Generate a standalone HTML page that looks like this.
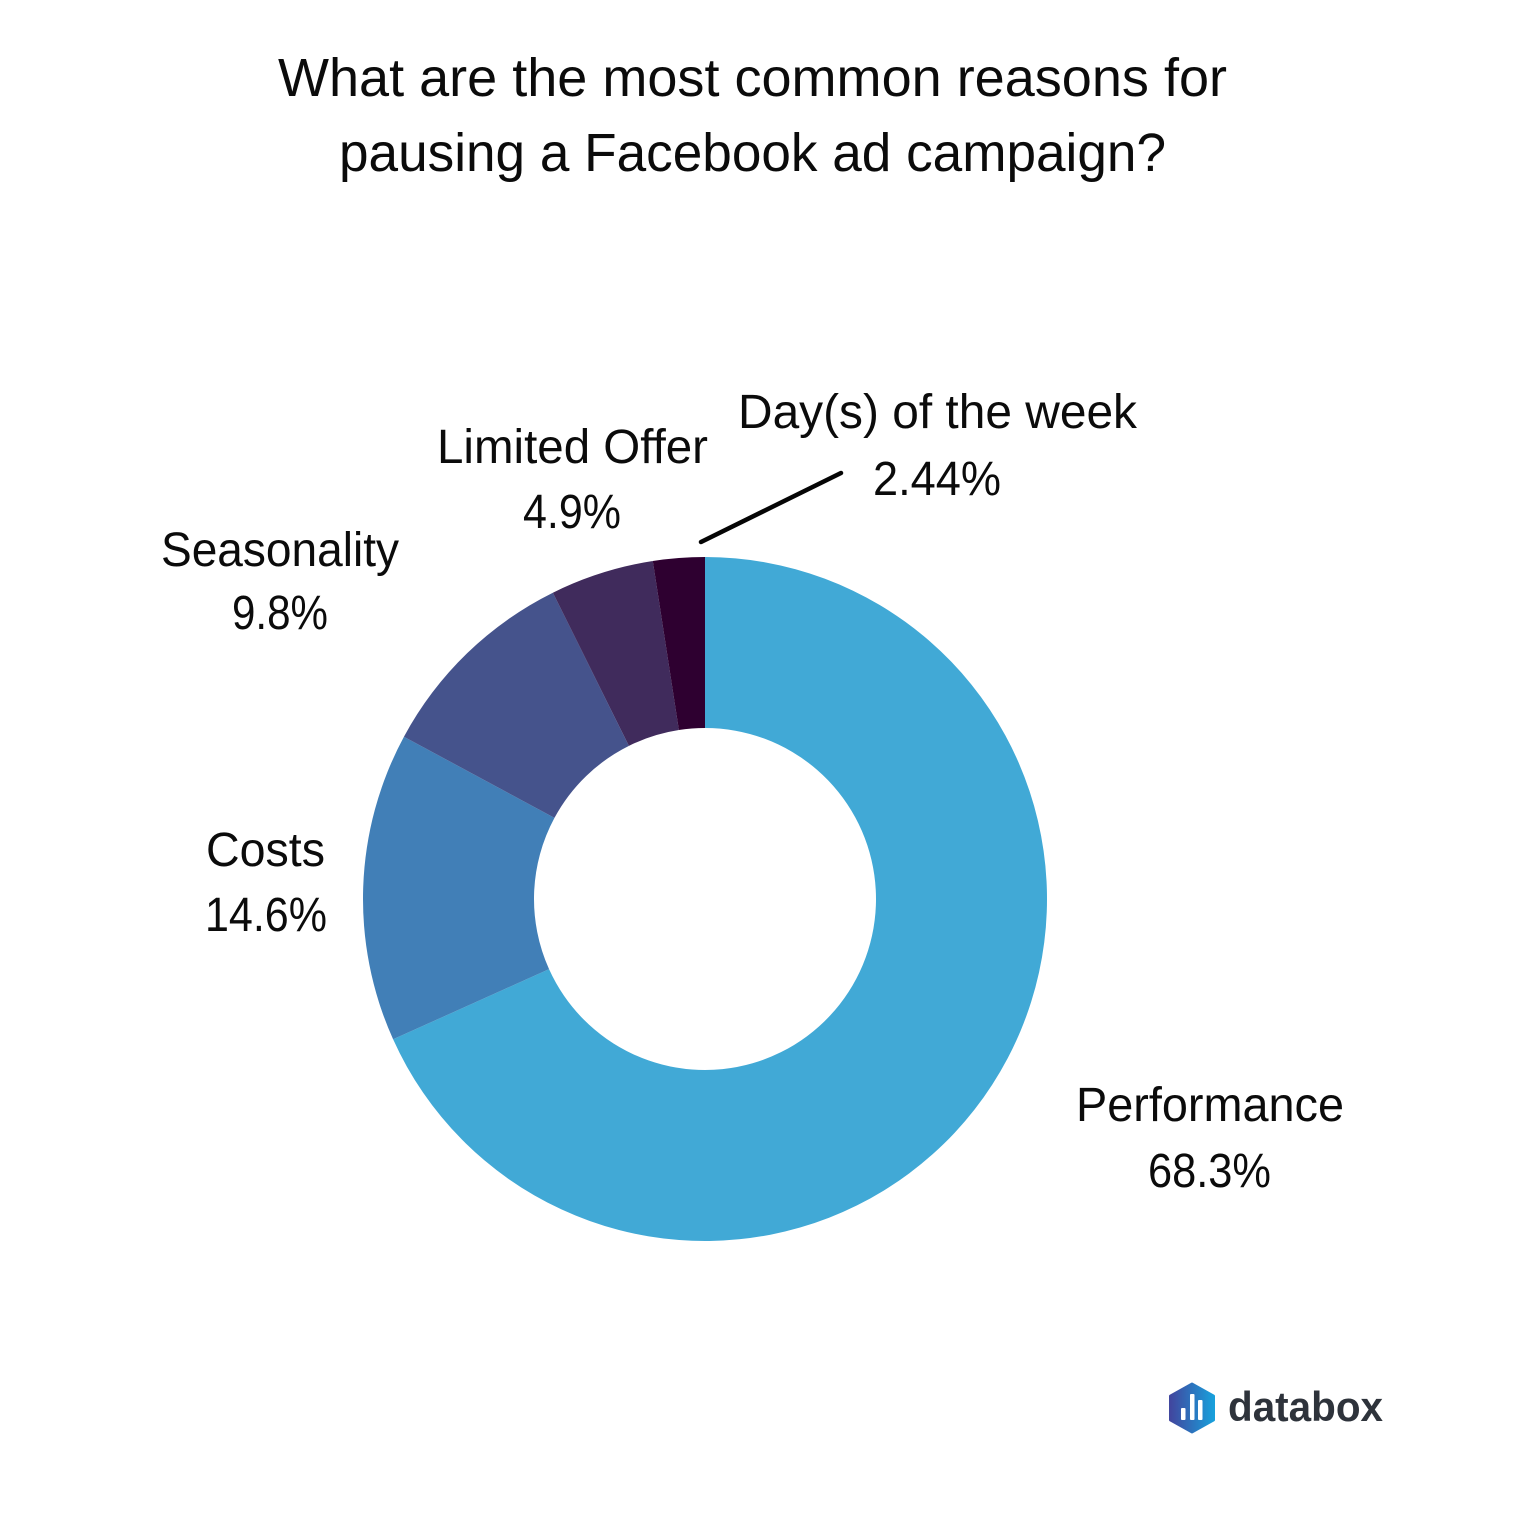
<!DOCTYPE html>
<html lang="en">
<head>
<meta charset="utf-8">
<title>Reasons for pausing a Facebook ad campaign</title>
<style>
html,body{margin:0;padding:0;background:#fff;width:1536px;height:1536px;overflow:hidden}
svg{display:block}
text{font-family:"Liberation Sans",sans-serif;fill:#0b0b0b;font-size:48px}
.title{font-size:54px}
</style>
</head>
<body>
<svg id="chart" xmlns="http://www.w3.org/2000/svg" width="1536" height="1536" viewBox="0 0 1536 1536">
  <defs>
    <linearGradient id="logoGrad" x1="0" y1="0" x2="1" y2="0">
      <stop offset="0" stop-color="#41479f"/>
      <stop offset="1" stop-color="#189fdb"/>
    </linearGradient>
  </defs>
  <rect width="1536" height="1536" fill="#ffffff"/>
  <g>
    <text class="title" x="278" y="96" textLength="949" lengthAdjust="spacingAndGlyphs">What are the most common reasons for</text>
    <text class="title" x="339" y="171" textLength="827" lengthAdjust="spacingAndGlyphs">pausing a Facebook ad campaign?</text>
  </g>
  <g id="slices"></g>
  <line x1="701" y1="542" x2="841" y2="473" stroke="#050505" stroke-width="4.5" stroke-linecap="round"/>
  <g>
    <text x="1076" y="1121" textLength="268" lengthAdjust="spacingAndGlyphs">Performance</text>
    <text x="1148" y="1187" textLength="123" lengthAdjust="spacingAndGlyphs">68.3%</text>
  </g>
  <g>
    <text x="206" y="866" textLength="119" lengthAdjust="spacingAndGlyphs">Costs</text>
    <text x="205" y="931" textLength="122" lengthAdjust="spacingAndGlyphs">14.6%</text>
  </g>
  <g>
    <text x="161" y="566" textLength="238" lengthAdjust="spacingAndGlyphs">Seasonality</text>
    <text x="232" y="629" textLength="96" lengthAdjust="spacingAndGlyphs">9.8%</text>
  </g>
  <g>
    <text x="437" y="463" textLength="271" lengthAdjust="spacingAndGlyphs">Limited Offer</text>
    <text x="523" y="528" textLength="98" lengthAdjust="spacingAndGlyphs">4.9%</text>
  </g>
  <g>
    <text x="738" y="428" textLength="399" lengthAdjust="spacingAndGlyphs">Day(s) of the week</text>
    <text x="873" y="495" textLength="128" lengthAdjust="spacingAndGlyphs">2.44%</text>
  </g>
  <g>
    <polygon points="1192,1384 1213.5,1396 1213.5,1420 1192,1432 1170.5,1420 1170.5,1396" fill="url(#logoGrad)" stroke="url(#logoGrad)" stroke-width="3" stroke-linejoin="round"/>
    <rect x="1181" y="1408" width="4.5" height="12" rx="1" fill="#fff"/>
    <rect x="1190" y="1394" width="4.5" height="26" rx="1" fill="#fff"/>
    <rect x="1198" y="1400" width="4.5" height="20" rx="1" fill="#fff"/>
    <text x="1228" y="1421" textLength="155" lengthAdjust="spacingAndGlyphs" style="font-size:42px;font-weight:bold;fill:#2e333b">databox</text>
  </g>
</svg>
<script>
const categories = ['Performance', 'Costs', 'Seasonality', 'Limited Offer', 'Days of the week'];
const seriesValues = [68.3, 14.6, 9.8, 4.9, 2.44];
const sliceColors = ['#41a9d6', '#417fb7', '#45538c', '#402b5c', '#2e0030'];

const centerX = 705;
const centerY = 899;
const outerRadius = 342;
const innerRadius = 171;
const total = seriesValues.reduce(function (a, b) { return a + b; }, 0);

function angleOf(value) {
  return value / total * Math.PI * 2;
}
function polar(radius, angle) {
  return [centerX + radius * Math.sin(angle), centerY - radius * Math.cos(angle)];
}
function slicePath(start, end) {
  const large = end - start > Math.PI ? 1 : 0;
  const a = polar(outerRadius, start);
  const b = polar(outerRadius, end);
  const c = polar(innerRadius, end);
  const d = polar(innerRadius, start);
  return 'M' + a[0] + ' ' + a[1] +
    'A' + outerRadius + ' ' + outerRadius + ' 0 ' + large + ' 1 ' + b[0] + ' ' + b[1] +
    'L' + c[0] + ' ' + c[1] +
    'A' + innerRadius + ' ' + innerRadius + ' 0 ' + large + ' 0 ' + d[0] + ' ' + d[1] + 'Z';
}

const group = document.getElementById('slices');
let cursor = 0;
seriesValues.forEach(function (value, i) {
  const next = cursor + angleOf(value);
  const el = document.createElementNS('http://www.w3.org/2000/svg', 'path');
  el.setAttribute('d', slicePath(cursor, next));
  el.setAttribute('fill', sliceColors[i]);
  
  
  group.appendChild(el);
  cursor = next;
});
</script>
</body>
</html>
